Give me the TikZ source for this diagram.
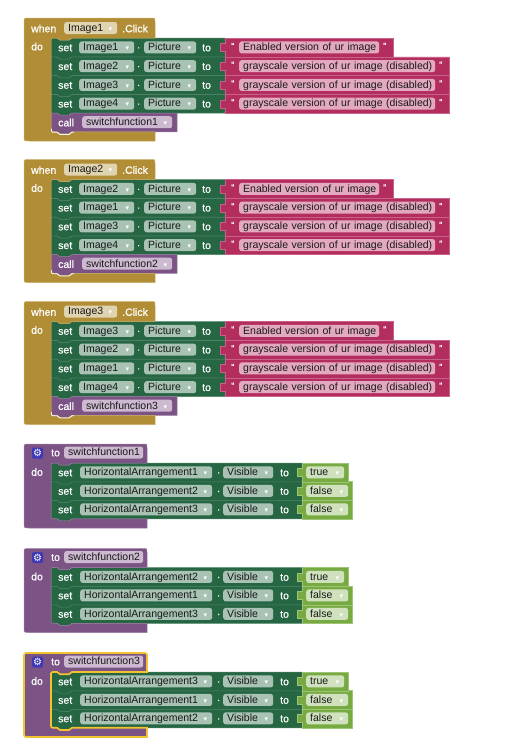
\documentclass[tikz,border=0pt]{standalone}
\usepackage{fontspec}
\setmainfont{Liberation Sans}
\newfontfamily\symfont{DejaVu Sans}
\newfontfamily\lblfont[FakeBold=0.6]{Liberation Sans}
\usepackage{tikz}
\usetikzlibrary{positioning}

\definecolor{whengold}{HTML}{B18E35}
\definecolor{whenedge}{HTML}{C8AC65}
\definecolor{whenfield}{HTML}{E0D3B0}
\definecolor{setgreen}{HTML}{266643}
\definecolor{setedge}{HTML}{4F8468}
\definecolor{setfield}{HTML}{A8C2B4}
\definecolor{txtpink}{HTML}{B32D5E}
\definecolor{txtedge}{HTML}{C8608A}
\definecolor{txtfield}{HTML}{E3A9C0}
\definecolor{procpurple}{HTML}{7C5385}
\definecolor{procedge}{HTML}{9A7BA2}
\definecolor{procfield}{HTML}{CDBAD1}
\definecolor{boolgreen}{HTML}{77AB41}
\definecolor{booledge}{HTML}{9CC474}
\definecolor{boolfield}{HTML}{D0E2BD}
\definecolor{gearblue}{HTML}{3F39B5}
\definecolor{picked}{HTML}{F2C230}

\newcommand{\ddarrow}{\hfill{\symfont\fontsize{7}{7}\selectfont\textcolor{white}{▾}}\hspace*{1pt}}

% statement row with notch on top and bump below
\newcommand{\rowshape}[3]{%
  \path[#1] (51,#2) -- (57,#2) -- (60,#2+2.2) -- (69,#2+2.2) -- (72,#2) -- (#3,#2)
    -- (#3,#2+18.75) -- (72,#2+18.75) -- (69,#2+21) -- (60,#2+21) -- (57,#2+18.75)
    -- (51,#2+18.75) -- cycle;}
% value block with its tab on the left
\newcommand{\valshape}[4]{%
  \path[#1] (#3,#2) -- (#4,#2) -- (#4,#2+18.75) -- (#3,#2+18.75) -- (#3,#2+13.5)
    -- (#3-5,#2+13.5) -- (#3-5,#2+5.5) -- (#3,#2+5.5) -- cycle;}
% C shaped body: top, header bottom, inner bottom, bottom, right
\newcommand{\cshape}[6]{%
  \path[#1] (29,#2) -- (#6-4,#2) .. controls (#6,#2) .. (#6,#2+4) -- (#6,#3)
    -- (72,#3) -- (69,#3+2.2) -- (60,#3+2.2) -- (57,#3) -- (55,#3)
    .. controls (51,#3) .. (51,#3+4) -- (51,#4-4) .. controls (51,#4) .. (55,#4)
    -- (57,#4) -- (60,#4+2.2) -- (69,#4+2.2) -- (72,#4) -- (#6,#4) -- (#6,#5)
    -- (29,#5) .. controls (24,#5) .. (24,#5-5) -- (24,#2+5)
    .. controls (24,#2) .. (29,#2) -- cycle;}
\newcommand{\whiteedge}[1]{%
  \draw[white, line width=0.8pt] (51.5,#1-3) .. controls (51.5,#1+.5) .. (55,#1+.5)
    -- (57,#1+.5) -- (60,#1+2.7) -- (69,#1+2.7) -- (72,#1+.5) -- (74,#1+.5);}

% name, top, image, text, right end of the text block, field end
\newcommand{\picrow}[6]{%
  \rowshape{setbody}{#2}{225}
  \valshape{txtbody}{#2}{225}{#5}
  \node[lbl] (#1-set) at (58,#2+9.9) {set};
  \node[setf, text width=47pt] (#1-img) at (79,#2+9.4) {#3\ddarrow};
  \node[lbl] (#1-dot) at (137,#2+9.9) {.};
  \node[setf, text width=44pt] (#1-prop) at (144,#2+9.4) {Picture\ddarrow};
  \node[lbl] (#1-to) at (202,#2+9.9) {to};
  \node[qmark] (#1-open) at (231,#2+8) {“};
  \node[txtf, text width=#6pt] (#1-txt) at (239,#2+9.4) {\mbox{#4}\hfill};
  \node[qmark] (#1-close) at (#5-10,#2+8) {”};}
% name, top, arrangement, value, value block end, value field text width
\newcommand{\visrow}[6]{%
  \rowshape{setbody}{#2}{302}
  \valshape{boolbody}{#2}{302}{#5}
  \node[lbl] (#1-set) at (58,#2+9.9) {set};
  \node[setf, text width=124pt] (#1-arr) at (80,#2+9.4) {HorizontalArrangement#3\ddarrow};
  \node[lbl] (#1-dot) at (217,#2+9.9) {.};
  \node[setf, text width=42pt] (#1-prop) at (223,#2+9.4) {Visible\ddarrow};
  \node[lbl] (#1-to) at (280,#2+9.9) {to};
  \node[boolf, text width=#6pt] (#1-val) at (306,#2+9.4) {#4\ddarrow};}

\begin{document}
\begin{tikzpicture}[x=1pt, y=-1pt, font=\fontsize{10.5}{12}\selectfont,
  setbody/.style={fill=setgreen, draw=setedge, line width=0.5pt},
  txtbody/.style={fill=txtpink, draw=txtedge, line width=0.5pt},
  boolbody/.style={fill=boolgreen, draw=booledge, line width=0.5pt},
  callbody/.style={fill=procpurple, draw=procedge, line width=0.5pt},
  whenbody/.style={fill=whengold, draw=whenedge, line width=0.5pt},
  procbody/.style={fill=procpurple, draw=procedge, line width=0.5pt},
  pickbody/.style={fill=procpurple, draw=picked, line width=1.7pt},
  lbl/.style={anchor=west, inner sep=0pt, text=white, font=\lblfont\fontsize{10.5}{12}\selectfont},
  field/.style={anchor=west, rounded corners=2.5pt, inner xsep=4pt, inner ysep=0pt,
    text height=9.3pt, text depth=2.7pt, align=left, text=black!90},
  setf/.style={field, fill=setfield},
  txtf/.style={field, fill=txtfield},
  boolf/.style={field, fill=boolfield},
  whenf/.style={field, fill=whenfield},
  procf/.style={field, fill=procfield},
  qmark/.style={anchor=west, inner sep=0pt, text=white, font=\lblfont\fontsize{9}{9}\selectfont}]
\useasboundingbox (0,0) rectangle (505,750);
\fill[white] (0,0) rectangle (505,750);

\foreach \b/\t/\ia/\ib/\ic in {1/18/1/2/3, 2/159.5/2/1/3, 3/301.5/3/2/1} {
  \pgfmathsetmacro\ya{\t+20}
  \pgfmathsetmacro\yb{\t+38.75}
  \pgfmathsetmacro\yc{\t+57.5}
  \pgfmathsetmacro\yd{\t+76.25}
  \pgfmathsetmacro\ye{\t+95}
  \pgfmathsetmacro\yf{\t+113.75}
  \pgfmathsetmacro\yg{\t+123}
  \picrow{pic\b a}{\yd}{Image4}{grayscale version of ur image (disabled)}{449}{188}
  \picrow{pic\b b}{\yc}{Image\ic}{grayscale version of ur image (disabled)}{449}{188}
  \picrow{pic\b c}{\yb}{Image\ib}{grayscale version of ur image (disabled)}{449}{188}
  \picrow{pic\b d}{\ya}{Image\ia}{Enabled version of ur image}{393}{132}
  \rowshape{callbody}{\ye}{177}
  \node[lbl] (call\b) at (58,\ye+9.6) {call};
  \node[procf, text width=82pt] (fn\b) at (82,\ye+9.2) {switchfunction\b\ddarrow};
  \cshape{whenbody}{\t}{\ya}{\yf}{\yg}{155}
  \whiteedge{\yf}
  \node[lbl] (when\b) at (31,\t+10.5) {when};
  \node[whenf, text width=45pt] (img\b) at (64,\t+10) {Image\b\ddarrow};
  \node[lbl] (click\b) at (122,\t+10.5) {.Click};
  \node[lbl] (do\b) at (31,\t+28.5) {do};
}

\foreach \b/\n/\t/\ia/\ib/\ic/\pick in {4/1/444/1/2/3/procbody, 5/2/548.5/2/1/3/procbody,
    6/3/653/3/1/2/pickbody} {
  \pgfmathsetmacro\ya{\t+19}
  \pgfmathsetmacro\yb{\t+37.5}
  \pgfmathsetmacro\yc{\t+56}
  \pgfmathsetmacro\yd{\t+74.75}
  \pgfmathsetmacro\ye{\t+84}
  \visrow{vis\b c}{\yc}{\ic}{false}{352}{34}
  \visrow{vis\b b}{\yb}{\ib}{false}{352}{34}
  \visrow{vis\b a}{\ya}{\ia}{true}{348}{30}
  \cshape{\pick}{\t}{\ya}{\yd}{\ye}{147}
  \node[fill=gearblue, rounded corners=1.5pt, inner sep=0pt, minimum size=11pt,
    text=white, font=\symfont\fontsize{10}{10}\selectfont] (gear\b) at (37.5,\t+9) {⚙};
  \node[lbl] (to\b) at (51,\t+9) {to};
  \node[procf, text width=71pt] (def\b) at (64,\t+8.5) {switchfunction\n};
  \node[lbl] (do\b) at (31,\t+28) {do};
}
\end{tikzpicture}
\end{document}
